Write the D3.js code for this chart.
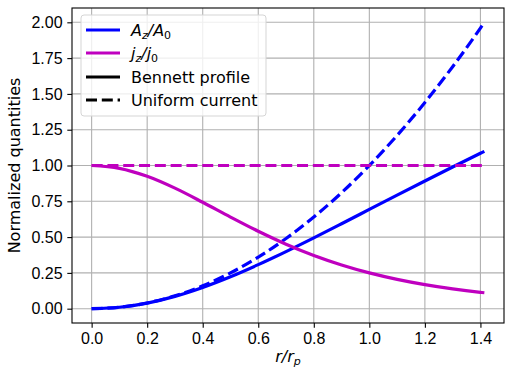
<!DOCTYPE html>
<html>
<head>
<meta charset="utf-8">
<script src="https://cdn.jsdelivr.net/npm/d3@7"></script>
<style>
  body { margin: 0; background: #fff; }
  svg { font-family: "DejaVu Sans", sans-serif; }
  .axis text { font-size: 16px; fill: #000; }
  .axis path, .axis line { stroke: #000; stroke-width: 1.1; }
  .grid line { stroke: #b0b0b0; stroke-width: 1.1; }
</style>
</head>
<body>
<div id="chart"></div>
<script>
// radius values r/r_p
const radii = [0, 0.1, 0.2, 0.3, 0.4, 0.5, 0.6, 0.7, 0.8, 0.9, 1.0, 1.1, 1.2, 1.3, 1.4, 1.4142];
// A_z/A_0, Bennett profile
const aBennett = [0, 0.00995, 0.03922, 0.08618, 0.14842, 0.22314, 0.30748, 0.39878, 0.4947, 0.59333, 0.69315, 0.79299, 0.892, 0.98954, 1.08519, 1.09861];
// A_z/A_0, uniform current
const aUniform = [0, 0.01, 0.04, 0.09, 0.16, 0.25, 0.36, 0.49, 0.64, 0.81, 1.0, 1.21, 1.44, 1.69, 1.96, 2.0];
// j_z/j_0, Bennett profile
const jBennett = [1, 0.9803, 0.92456, 0.84168, 0.74316, 0.64, 0.54066, 0.45043, 0.3718, 0.30524, 0.25, 0.20475, 0.16797, 0.1382, 0.11413, 0.11111];
// j_z/j_0, uniform current
const jUniform = [1, 1, 1, 1, 1, 1, 1, 1, 1, 1, 1, 1, 1, 1, 1, 1];

const xTicks = [0, 0.2, 0.4, 0.6, 0.8, 1.0, 1.2, 1.4];
const yTicks = [0, 0.25, 0.5, 0.75, 1.0, 1.25, 1.5, 1.75, 2.0];

const width = 513, height = 378;
const margin = { top: 8, right: 9, bottom: 55, left: 72 };

const blue = '#0000ff', magenta = '#bf00bf';
const dash = '11,4.8';

const x = d3.scaleLinear().domain([-0.0707, 1.4849]).range([margin.left, width - margin.right]);
const y = d3.scaleLinear().domain([-0.1, 2.1]).range([height - margin.bottom, margin.top]);

const svg = d3.select('#chart').append('svg')
  .attr('width', width)
  .attr('height', height);

// grid
const grid = svg.append('g').attr('class', 'grid');
grid.selectAll('line.gx').data(xTicks).join('line')
  .attr('class', 'gx')
  .attr('x1', (d) => x(d)).attr('x2', (d) => x(d))
  .attr('y1', margin.top).attr('y2', height - margin.bottom);
grid.selectAll('line.gy').data(yTicks).join('line')
  .attr('class', 'gy')
  .attr('x1', margin.left).attr('x2', width - margin.right)
  .attr('y1', (d) => y(d)).attr('y2', (d) => y(d));

const line = (vals) => d3.line()
  .x((d, i) => x(radii[i]))
  .y((d) => y(d))
  .curve(d3.curveMonotoneX)(vals);

const series = [
  { vals: aBennett, color: blue, dashed: false },
  { vals: aUniform, color: blue, dashed: true },
  { vals: jBennett, color: magenta, dashed: false },
  { vals: jUniform, color: magenta, dashed: true },
];

svg.append('g').selectAll('path').data(series).join('path')
  .attr('d', (d) => line(d.vals))
  .attr('fill', 'none')
  .attr('stroke', (d) => d.color)
  .attr('stroke-width', 3.2)
  .attr('stroke-dasharray', (d) => (d.dashed ? dash : null));

// axes
svg.append('g').attr('class', 'axis')
  .attr('transform', `translate(0,${height - margin.bottom})`)
  .call(d3.axisBottom(x).tickValues(xTicks).tickFormat(d3.format('.1f')).tickSize(4.7).tickPadding(4.7))
  .call((g) => g.select('.domain').remove());
svg.append('g').attr('class', 'axis')
  .attr('transform', `translate(${margin.left},0)`)
  .call(d3.axisLeft(y).tickValues(yTicks).tickFormat(d3.format('.2f')).tickSize(4.7).tickPadding(4.7))
  .call((g) => g.select('.domain').remove());

svg.append('rect')
  .attr('x', margin.left).attr('y', margin.top)
  .attr('width', width - margin.left - margin.right)
  .attr('height', height - margin.top - margin.bottom)
  .attr('fill', 'none').attr('stroke', '#000').attr('stroke-width', 1.1);

// axis labels
const xl = svg.append('text')
  .attr('x', (margin.left + width - margin.right) / 2)
  .attr('y', 362)
  .attr('text-anchor', 'middle')
  .style('font-size', '16px')
  .style('font-style', 'italic');
xl.append('tspan').text('r/r');
xl.append('tspan').attr('baseline-shift', '-25%').style('font-size', '11px').text('p');

svg.append('text')
  .attr('transform', `translate(20,${(margin.top + height - margin.bottom) / 2}) rotate(-90)`)
  .attr('text-anchor', 'middle')
  .style('font-size', '16px')
  .text('Normalized quantities');

// legend
const legend = svg.append('g').attr('transform', 'translate(81,15)');
legend.append('rect')
  .attr('width', 185).attr('height', 101)
  .attr('rx', 3)
  .attr('fill', 'rgba(255,255,255,0.8)')
  .attr('stroke', '#d5d5d5');

const legendItems = [
  { color: blue, dashed: false, label: ['A', 'z', '/A', '0'], math: true },
  { color: magenta, dashed: false, label: ['j', 'z', '/j', '0'], math: true },
  { color: '#000', dashed: false, label: ['Bennett profile'], math: false },
  { color: '#000', dashed: true, label: ['Uniform current'], math: false },
];
const rowY = [15, 38, 62, 85];

const rows = legend.selectAll('g.row').data(legendItems).join('g')
  .attr('class', 'row')
  .attr('transform', (d, i) => `translate(0,${rowY[i]})`);
rows.append('line')
  .attr('x1', 5).attr('x2', 39)
  .attr('stroke', (d) => d.color)
  .attr('stroke-width', 3.2)
  .attr('stroke-dasharray', (d) => (d.dashed ? dash : null));
rows.each(function (d) {
  const t = d3.select(this).append('text')
    .attr('x', 50).attr('y', 6)
    .style('font-size', '16px');
  if (d.math) {
    t.style('font-style', 'italic');
    t.append('tspan').text(d.label[0]);
    t.append('tspan').attr('baseline-shift', '-25%').style('font-size', '11px').text(d.label[1]);
    t.append('tspan').text(d.label[2]);
    t.append('tspan').attr('baseline-shift', '-25%').style('font-size', '11px').style('font-style', 'normal').text(d.label[3]);
  } else {
    t.text(d.label[0]);
  }
});
</script>
</body>
</html>
